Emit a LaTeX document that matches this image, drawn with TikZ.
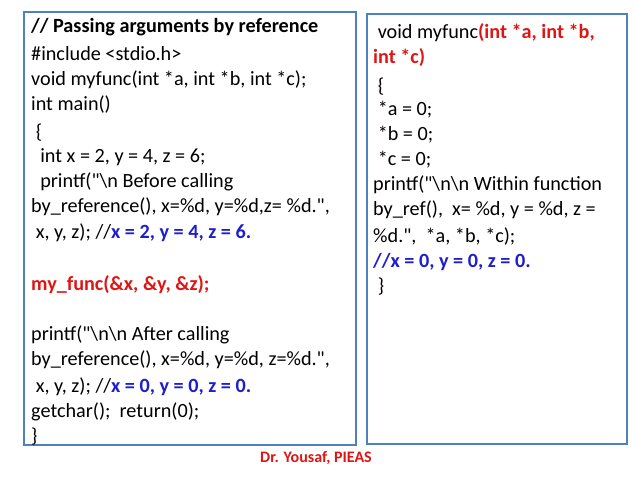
\documentclass[tikz,border=0pt]{standalone}
\usepackage{fontspec}
\setmainfont{Carlito}[Ligatures=TeXOff]
\definecolor{bx}{RGB}{79,129,189}
\definecolor{bl}{RGB}{30,30,205}
\definecolor{rd}{RGB}{225,20,20}
\begin{document}
\begin{tikzpicture}[x=1pt,y=-1pt,
  ln/.style={anchor=west,inner sep=0pt,font=\fontsize{20.2}{23}\selectfont},
  panel/.style={draw=bx,line width=2.2pt}]
\useasboundingbox (0,0) rectangle (638,478);
\draw[panel] (24,12) rectangle (356,445);
\draw[panel] (367,14) rectangle (627,444);
\node[ln] (l1) at (31,27) {\textbf{// Passing arguments by reference}};
\node[ln] (l2) at (31,54) {\#include <stdio.h>};
\node[ln] (l3) at (31,80) {void myfunc(int *a, int *b, int *c);};
\node[ln] (l4) at (31,105) {int main()};
\node[ln] (l5) at (31,133) {\ \{};
\node[ln] (l6) at (31,157) {\ \ int x = 2, y = 4, z = 6;};
\node[ln] (l7) at (31,182) {\ \ printf("\textbackslash n Before calling};
\node[ln] (l8) at (31,207) {by\_reference(), x=\%d, y=\%d,z= \%d.",};
\node[ln] (l9) at (31,233) {\ x, y, z); //\textcolor{bl}{\textbf{x = 2, y = 4, z = 6.}}};
\node[ln] (l10) at (31,285) {\textcolor{rd}{\textbf{my\_func(\&x, \&y, \&z);}}};
\node[ln] (l11) at (31,335) {printf("\textbackslash n\textbackslash n After calling};
\node[ln] (l12) at (31,360) {by\_reference(), x=\%d, y=\%d, z=\%d.",};
\node[ln] (l13) at (31,387) {\ x, y, z); //\textcolor{bl}{\textbf{x = 0, y = 0, z = 0.}}};
\node[ln] (l14) at (31,412) {getchar();\ \ return(0);};
\node[ln] (l15) at (31,437) {\}};
\node[ln] (r1) at (373,33) {\ void myfunc\textcolor{rd}{\textbf{(int *a, int *b,}}};
\node[ln] (r2) at (373,58) {\textcolor{rd}{\textbf{int *c)}}};
\node[ln] (r3) at (373,87) {\ \{};
\node[ln] (r4) at (373,110) {\ *a = 0;};
\node[ln] (r5) at (373,135) {\ *b = 0;};
\node[ln] (r6) at (373,160) {\ *c = 0;};
\node[ln] (r7) at (373,185) {printf("\textbackslash n\textbackslash n Within function};
\node[ln] (r8) at (373,210) {by\_ref(),\ \ x= \%d, y = \%d, z =};
\node[ln] (r9) at (373,237) {\%d.",\ \ *a, *b, *c);};
\node[ln] (r10) at (373,262) {\textcolor{bl}{\textbf{//x = 0, y = 0, z = 0.}}};
\node[ln] (r11) at (373,287) {\ \}};
\node[font=\fontsize{16}{18}\selectfont\bfseries,text=rd] (ft) at (316,458) {Dr. Yousaf, PIEAS};
\end{tikzpicture}
\end{document}
